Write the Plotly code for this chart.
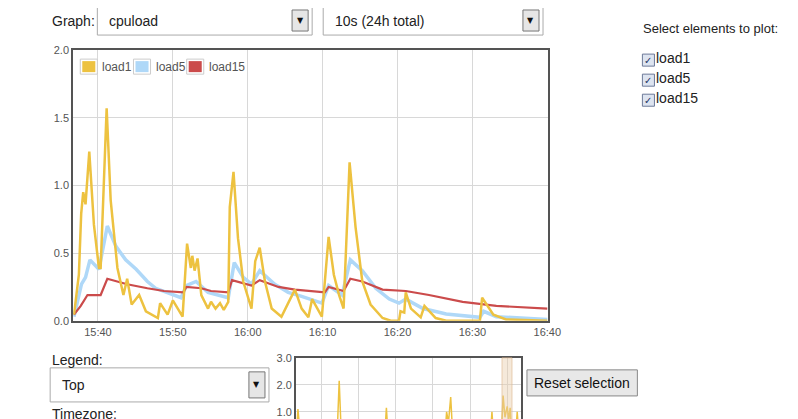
import plotly.graph_objects as go

# ---- data (minutes relative to 15:40) ----
load1_t = [-3.2,-2.55,-2.24,-1.97,-1.66,-1.16,-0.54,0.13,0.36,1.16,1.7,2.6,3.4,3.9,4.5,5.5,6.4,8,8.3,9.3,10.0,11.3,11.9,12.4,12.6,12.9,13.3,13.8,14.7,15.1,15.7,16.3,16.8,17.4,17.6,18.1,18.7,19.4,20.5,21.0,21.6,22.3,23.2,24.5,25.4,26.3,27.2,28.1,28.6,29.9,30.8,31.5,32.2,32.8,33.6,34.4,35.3,36.4,38,39.1,40.2,40.4,40.9,41.1,41.8,43.1,43.6,45.1,46.5,51,51.3,52.8,54.5,60]
load1_v = [0.045,0.34,0.79,0.95,0.86,1.25,0.71,0.39,0.39,1.57,0.89,0.39,0.19,0.31,0.12,0.19,0.07,0.02,0.13,0.045,0.15,0.03,0.57,0.39,0.48,0.37,0.46,0.19,0.09,0.14,0.09,0.13,0.08,0.14,0.84,1.10,0.61,0.29,0.09,0.44,0.54,0.29,0.09,0.03,0.13,0.23,0.09,0.025,0.16,0.03,0.62,0.34,0.19,0.09,1.17,0.69,0.29,0.12,0.02,0,0,0.07,0.06,0.21,0.09,0.025,0.11,0.02,0,0,0.17,0.045,0.01,0]
load5_t = [-3.2,-2.2,-1.66,-1.07,0.13,1.25,2.4,3.7,5.1,6.6,7.7,9.3,11.1,11.8,13.1,14.7,17.4,18.2,19.4,20.5,21.6,23.6,25.4,27.2,29.9,30.8,32.6,33.7,35.3,37.1,38.9,40.2,41.1,43.4,46.5,51,51.5,53.2,60]
load5_v = [0.03,0.27,0.32,0.45,0.38,0.70,0.55,0.45,0.38,0.29,0.24,0.21,0.17,0.26,0.29,0.21,0.17,0.43,0.32,0.27,0.37,0.27,0.21,0.18,0.13,0.26,0.19,0.45,0.37,0.24,0.16,0.13,0.16,0.09,0.05,0.025,0.07,0.03,0.01]
load15_t = [-3.2,-2.3,-1.4,0.36,1.25,3.9,6.6,8.8,11.4,11.8,13.8,15.1,17.4,17.9,20.5,21.6,24.1,26.3,30.3,30.8,32.8,33.7,35.3,38,41.1,44.2,48.7,53.2,60]
load15_v = [0.045,0.11,0.19,0.19,0.31,0.27,0.24,0.22,0.21,0.25,0.24,0.22,0.21,0.30,0.26,0.30,0.25,0.23,0.21,0.25,0.22,0.31,0.29,0.23,0.22,0.19,0.14,0.11,0.09]
tick_vals = [0, 10, 20, 30, 40, 50, 60]
tick_text = ["15:40", "15:50", "16:00", "16:10", "16:20", "16:30", "16:40"]

ov_t = [0,0.05,0.12,1.1,1.16,1.22,2.38,2.43,2.48,4.0,4.05,4.1,4.16,4.22,5.22,5.27,5.32,5.52,5.57,5.62,5.68,5.72,5.76,5.8,5.9,5.95,6.0,6.05]
ov_v = [0,1.1,0,0,2.15,0,0,1.15,0,0,1.0,0.6,1.55,0,0,1.0,0,0,1.6,0.8,1.2,0.7,1.15,0,0,1.0,0,0]

W, H = 798, 419
# compensate for page offset/scaling observed in the rendered page
def px(x): return ((x - 8) / 0.98) / W
def py(y): return 1 - ((y - 14) / 0.969) / H

FONT = "Liberation Sans, Arial, sans-serif"
fig = go.Figure()
colors = {"load1": "#edc240", "load5": "#afd8f8", "load15": "#cb4b4b"}
fig.add_trace(go.Scatter(x=load5_t, y=load5_v, mode="lines", line=dict(color=colors["load5"], width=3.5)))
fig.add_trace(go.Scatter(x=load15_t, y=load15_v, mode="lines", line=dict(color=colors["load15"], width=2.2)))
fig.add_trace(go.Scatter(x=load1_t, y=load1_v, mode="lines", line=dict(color=colors["load1"], width=2.5)))
fig.add_trace(go.Scatter(x=ov_t, y=ov_v, mode="lines", line=dict(color=colors["load1"], width=1.5), xaxis="x2", yaxis="y2"))

ax = dict(showgrid=True, gridcolor="#d8d8d8", zeroline=False, showline=True, linecolor="#545454",
          linewidth=2, mirror=True, tickfont=dict(family=FONT, size=11, color="#545454"), ticks="")
fig.update_layout(
    width=W, height=H, margin=dict(l=0, r=0, t=0, b=0), showlegend=False,
    paper_bgcolor="white", plot_bgcolor="white",
    xaxis=dict(ax, domain=[px(73), px(546)], range=[-3.3, 60.1], tickvals=tick_vals, ticktext=tick_text),
    yaxis=dict(ax, domain=[py(320), py(50)], range=[0, 2.0], tickvals=[0, 0.5, 1.0, 1.5, 2.0],
               ticktext=["0.0", "0.5", "1.0", "1.5", "2.0"]),
    xaxis2=dict(ax, domain=[px(295), px(519)], range=[0, 6.05], tick0=0.68, dtick=1, showticklabels=False, anchor="y2"),
    yaxis2=dict(ax, domain=[0, py(357)], range=[0.66, 3.0], tickvals=[1.0, 2.0, 3.0],
                ticktext=["1.0", "2.0", "3.0"], anchor="x2"),
)
fig.add_shape(type="rect", xref="x2", yref="paper", x0=5.54, x1=5.81, y0=0, y1=py(357),
              fillcolor="rgba(232,207,172,0.45)", line=dict(color="rgba(220,180,140,0.6)", width=1))

def label(x, y, t, size=14, color="#222", anchor="left"):
    fig.add_annotation(xref="paper", yref="paper", x=px(x), y=py(y), text=t, showarrow=False,
                       xanchor=anchor, yanchor="middle", font=dict(family=FONT, size=size, color=color))

for (name, x0, tx) in [("load1", 81, 100), ("load5", 134, 153), ("load15", 187, 206)]:
    fig.add_shape(type="rect", xref="paper", yref="paper", x0=px(x0 - 1), x1=px(x0 + 16), y0=py(74), y1=py(59),
                  fillcolor="white", line=dict(color="#cccccc", width=1))
    fig.add_shape(type="rect", xref="paper", yref="paper", x0=px(x0 + 1), x1=px(x0 + 14), y0=py(72), y1=py(61),
                  fillcolor=colors[name], line=dict(width=0))
    label(tx, 67, name, size=12, color="#545454")

def dropdown(x0, x1, y0, y1, t):
    fig.add_shape(type="rect", xref="paper", yref="paper", x0=px(x0), x1=px(x1), y0=py(y1), y1=py(y0),
                  fillcolor="white", line=dict(color="#aaaaaa", width=1))
    fig.add_shape(type="rect", xref="paper", yref="paper", x0=px(x1 - 20), x1=px(x1 - 4), y0=py(y1 - 4), y1=py(y0 + 4),
                  fillcolor="#e6e6e6", line=dict(color="#777777", width=1))
    fig.add_annotation(xref="paper", yref="paper", x=px(x1 - 12), y=py((y0 + y1) / 2), text="▼", showarrow=False,
                       xanchor="center", yanchor="middle", font=dict(family="DejaVu Sans", size=8, color="#111"))
    label(x0 + 10, (y0 + y1) / 2, t)

label(50, 21, "Graph:")
dropdown(97, 311, 6, 35, "cpuload")
dropdown(322, 541, 6, 35, "10s (24h total)")
label(639, 28, "Select elements to plot:", size=13)
for i, n in enumerate(["load1", "load5", "load15"]):
    y = 60 + 20 * i
    fig.add_shape(type="rect", xref="paper", yref="paper", x0=px(640), x1=px(652), y0=py(y + 6), y1=py(y - 6),
                  fillcolor="#dde4f0", line=dict(color="#6d7a99", width=1))
    fig.add_annotation(xref="paper", yref="paper", x=px(646), y=py(y), text="✓", showarrow=False,
                       xanchor="center", yanchor="middle", font=dict(family="DejaVu Sans", size=10, color="#223366"))
    label(652, y - 2, n)
label(50, 359, "Legend:")
dropdown(50, 268, 367, 401, "Top")
label(50, 413, "Timezone:")
fig.add_shape(type="rect", xref="paper", yref="paper", x0=px(525), x1=px(635), y0=py(395), y1=py(369),
              fillcolor="#e8e8e8", line=dict(color="#888888", width=1))
label(580, 382, "Reset selection", anchor="center", color="#111")

fig.write_html("out.html")
